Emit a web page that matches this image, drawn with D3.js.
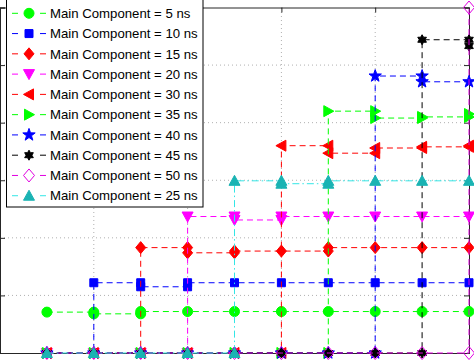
<!DOCTYPE html>
<html>
<head>
<meta charset="utf-8">
<script src="https://cdn.jsdelivr.net/npm/d3@7"></script>
<style>
html,body{margin:0;padding:0;background:#fff;overflow:hidden;}
svg{display:block;}
</style>
</head>
<body>
<svg id="chart" width="474" height="361"></svg>
<script>
// ---- data ----
const xIndex = [1,2,3,4,5,6,7,8,9,10];
const seriesNames = ["Main Component = 5 ns","Main Component = 10 ns","Main Component = 15 ns",
  "Main Component = 20 ns","Main Component = 30 ns","Main Component = 35 ns",
  "Main Component = 40 ns","Main Component = 45 ns","Main Component = 50 ns","Main Component = 25 ns"];
const values5  = [0.71,0.68,0.72,0.72,0.72,0.72,0.72,0.72,0.72,0.72];
const values10 = [0,1.22,1.15,1.22,1.22,1.22,1.22,1.22,1.22,1.22];
const values15 = [0,0,1.83,1.74,1.77,1.77,1.83,1.83,1.83,1.83];
const values20 = [0,0,0,2.37,2.31,2.37,2.37,2.37,2.37,2.37];
const values30 = [0,0,0,0,0,3.60,3.47,3.56,3.58,3.60];
const values35 = [0,0,0,0,0,0,4.20,4.08,4.10,4.15];
const values40 = [0,0,0,0,0,0,0,4.81,4.71,4.71];
const values45 = [0,0,0,0,0,0,0,0,5.44,5.33];
const values50 = [0,0,0,0,0,0,0,0,0,6.0];
const values25 = [0,0,0,0,2.99,2.94,2.99,2.99,2.99,2.99];
const xTicks = [0,2,4,6,8,10];
const yTicks = [0,1,2,3,4,5,6];

// ---- styles ----
const styles = [
  {v:values5,  line:"#00ff00", fill:"#00ff00", m:"o", dash:"6,4"},
  {v:values10, line:"#0000ff", fill:"#0000ff", m:"s", dash:"6,4"},
  {v:values15, line:"#ff0000", fill:"#ff0000", m:"d", dash:"6,4"},
  {v:values20, line:"#ff00ff", fill:"#ff00ff", m:"v", dash:"6,4"},
  {v:values30, line:"#ff0000", fill:"#ff0000", m:"<", dash:"6,4"},
  {v:values35, line:"#00ff00", fill:"#00ff00", m:">", dash:"6,4"},
  {v:values40, line:"#0000ff", fill:"#0000ff", m:"p", dash:"6,4"},
  {v:values45, line:"#000000", fill:"#000000", m:"h", dash:"6,4"},
  {v:values50, line:"#e000e0", fill:"none",    m:"D", dash:"6,4"},
  {v:values25, line:"#33e6e6", fill:"#1ab3b3", m:"^", dash:"7,3,1.5,3"}
];

const svg = d3.select("#chart");
const x = d3.scaleLinear().domain([0,10]).range([0,469]);
const y = d3.scaleLinear().domain([0,6]).range([353,7.5]);

// grid
const g = svg.append("g");
g.selectAll(".gx").data(xTicks.filter(t=>t>0&&t<10)).join("line")
  .attr("x1",d=>x(d)).attr("x2",d=>x(d)).attr("y1",y(0)).attr("y2",y(6))
  .attr("stroke","#b0b0b0").attr("stroke-width",1).attr("stroke-dasharray","1,3");
g.selectAll(".gy").data(yTicks.filter(t=>t>0&&t<6)).join("line")
  .attr("x1",x(0)).attr("x2",x(10)).attr("y1",d=>y(d)).attr("y2",d=>y(d))
  .attr("stroke","#b0b0b0").attr("stroke-width",1).attr("stroke-dasharray","1,3");

// axes (ticks inward, labels cropped away)
const axCol = "#262626";
const axB = svg.append("g").attr("transform",`translate(0,${y(0)})`)
  .call(d3.axisTop(x).tickValues(xTicks).tickSize(5).tickFormat(""));
const axT = svg.append("g").attr("transform",`translate(0,${y(6)})`)
  .call(d3.axisBottom(x).tickValues(xTicks).tickSize(5).tickFormat(""));
const axL = svg.append("g").attr("transform",`translate(${x(0)},0)`)
  .call(d3.axisRight(y).tickValues(yTicks).tickSize(5).tickFormat(""));
const axR = svg.append("g").attr("transform",`translate(${x(10)},0)`)
  .call(d3.axisLeft(y).tickValues(yTicks).tickSize(5).tickFormat(""));
[axB,axT,axL,axR].forEach(a=>{
  a.selectAll("path").attr("stroke",axCol).attr("stroke-width",1);
  a.selectAll("line").attr("stroke",axCol);
});

// marker shapes
function markerPath(m){
  switch(m){
    case "o": return d3.symbol(d3.symbolCircle, Math.PI*25)();
    case "s": return "M-4,-4L4,-4L4,4L-4,4Z";
    case "d": return "M0,-6L5,0L0,6L-5,0Z";
    case "D": return "M0,-6.5L5.5,0L0,6.5L-5.5,0Z";
    case "v": return "M-5.5,-4.5L5.5,-4.5L0,5.5Z";
    case "^": return "M0,-5.5L5.5,4.5L-5.5,4.5Z";
    case "<": return "M-5.5,0L4.5,-5.5L4.5,5.5Z";
    case ">": return "M5.5,0L-4.5,-5.5L-4.5,5.5Z";
    case "p": {
      let p=[]; for(let i=0;i<10;i++){const r=i%2?2.6:6.5;const a=-Math.PI/2+i*Math.PI/5;p.push([r*Math.cos(a),r*Math.sin(a)]);}
      return "M"+p.map(q=>q.join(",")).join("L")+"Z";
    }
    case "h": {
      let p=[]; for(let i=0;i<12;i++){const r=i%2?2.9:5;const a=-Math.PI/2+i*Math.PI/6;p.push([r*Math.cos(a),r*Math.sin(a)]);}
      return "M"+p.map(q=>q.join(",")).join("L")+"Z";
    }
  }
}

// build stepped points
function buildPoints(vals){
  const pts=[];
  vals.forEach((v,i)=>{
    if(i>0 && v!==vals[i-1]) pts.push([xIndex[i], vals[i-1]]);
    pts.push([xIndex[i], v]);
  });
  return pts;
}

const lineGen = d3.line().x(d=>x(d[0])).y(d=>y(d[1]));
styles.forEach(s=>{
  const pts = buildPoints(s.v);
  const sg = svg.append("g");
  sg.append("path").attr("d",lineGen(pts)).attr("fill","none")
    .attr("stroke",s.line).attr("stroke-width",1).attr("stroke-dasharray",s.dash);
  sg.selectAll("path.mk").data(pts).join("path").attr("class","mk")
    .attr("d",markerPath(s.m))
    .attr("transform",d=>`translate(${x(d[0])},${y(d[1])})`)
    .attr("fill",s.fill).attr("stroke",s.m==="^"?s.fill:s.line).attr("stroke-width",1);
});

// legend
const leg = svg.append("g");
leg.append("rect").attr("x",6.5).attr("y",-3).attr("width",196.5).attr("height",210)
  .attr("fill","#fff").attr("stroke","#000").attr("stroke-width",1);
styles.forEach((s,i)=>{
  const cy = 13.3 + i*20.27;
  const row = leg.append("g").attr("transform",`translate(0,${cy})`);
  row.append("line").attr("x1",12).attr("x2",46).attr("y1",0).attr("y2",0)
    .attr("stroke",s.line).attr("stroke-width",1).attr("stroke-dasharray","6,22");
  row.append("path").attr("d",markerPath(s.m)).attr("transform","translate(29,0)")
    .attr("fill",s.fill).attr("stroke",s.m==="^"?s.fill:s.line).attr("stroke-width",1);
  row.append("text").attr("x",50).attr("y",0).attr("dy","0.36em")
    .attr("font-family","'Liberation Sans', Arial, Helvetica, sans-serif")
    .attr("font-size","13.2px").attr("fill","#000").text(seriesNames[i]);
});
</script>
</body>
</html>
